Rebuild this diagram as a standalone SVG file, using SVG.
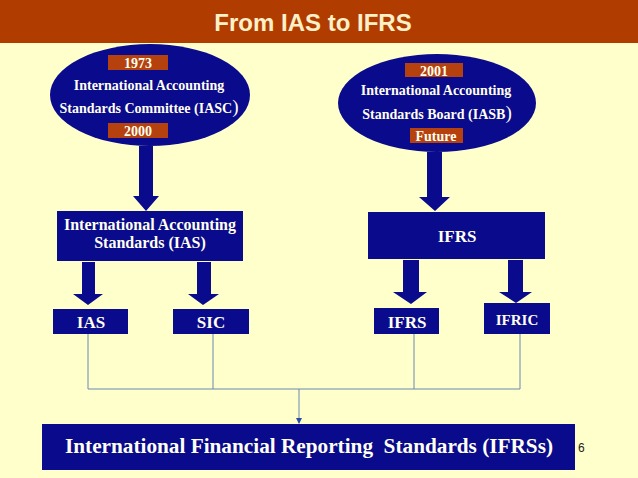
<svg xmlns="http://www.w3.org/2000/svg" width="638" height="478" viewBox="0 0 638 478">
<style>
.bg{fill:#FFFFCC}
.hdr{fill:#B03C00}
.navy{fill:#0A0A8C}
.lab{fill:#B5420E}
.t{font-family:"Liberation Serif","Times New Roman",serif;font-weight:bold;fill:#FFFFF0;text-anchor:middle}
.title{font-family:"Liberation Sans",Arial,sans-serif;font-weight:bold;font-size:24px;fill:#FFF0C8;text-anchor:middle}
.conn{stroke:#6A88B0;stroke-width:1;fill:none}
</style>
<defs>
<marker id="ah" markerWidth="6" markerHeight="6" refX="5" refY="3" orient="auto" markerUnits="userSpaceOnUse">
<path d="M0,0 L6,3 L0,6 Z" fill="#2A4AA8"/>
</marker>
</defs>
<rect class="bg" x="0" y="0" width="638" height="478"/>
<rect class="hdr" x="0" y="0" width="638" height="43"/>
<text class="title" x="313" y="31">From IAS to IFRS</text>

<g id="iasc">
<ellipse class="navy" cx="150" cy="95" rx="100" ry="51"/>
<rect class="lab" x="108" y="55" width="60" height="15"/>
<text class="t" x="138" y="68" font-size="14">1973</text>
<text class="t" x="149" y="90" font-size="14">International Accounting</text>
<text class="t" x="149" y="113" font-size="14">Standards Committee (IASC<tspan font-size="19" font-weight="normal">)</tspan></text>
<rect class="lab" x="108" y="123" width="60" height="15"/>
<text class="t" x="138" y="136" font-size="14">2000</text>
</g>

<g id="iasb">
<ellipse class="navy" cx="437" cy="103" rx="99" ry="49"/>
<rect class="lab" x="405" y="63" width="58" height="14"/>
<text class="t" x="434" y="75.5" font-size="14">2001</text>
<text class="t" x="436" y="95" font-size="14">International Accounting</text>
<text class="t" x="437" y="119" font-size="14">Standards Board (IASB<tspan font-size="19" font-weight="normal">)</tspan></text>
<rect class="lab" x="410" y="128" width="53" height="15"/>
<text class="t" x="436" y="141" font-size="14">Future</text>
</g>

<g id="ias-standards">
<rect class="navy" x="57" y="211" width="186" height="50"/>
<text class="t" x="150" y="230" font-size="16">International Accounting</text>
<text class="t" x="150" y="248" font-size="16">Standards (IAS)</text>
</g>

<g id="ifrs-main">
<rect class="navy" x="368" y="212" width="177" height="47"/>
<text class="t" x="457" y="242" font-size="17">IFRS</text>
</g>

<g id="ias">
<rect class="navy" x="53" y="309" width="75" height="25"/>
<text class="t" x="91" y="328" font-size="17">IAS</text>
</g>
<g id="sic">
<rect class="navy" x="173" y="309" width="76" height="25"/>
<text class="t" x="211" y="328" font-size="17">SIC</text>
</g>
<g id="ifrs">
<rect class="navy" x="374" y="308" width="65" height="26"/>
<text class="t" x="407" y="328" font-size="17">IFRS</text>
</g>
<g id="ifric">
<rect class="navy" x="484" y="303" width="66" height="31"/>
<text class="t" x="517" y="325" font-size="15">IFRIC</text>
</g>

<g id="ifrss">
<rect class="navy" x="42" y="424" width="533" height="46"/>
<text class="t" x="309" y="453" font-size="21" xml:space="preserve" textLength="488" lengthAdjust="spacingAndGlyphs">International Financial Reporting  Standards (IFRSs)</text>
</g>
<text x="578" y="452" font-family="'Liberation Sans',Arial,sans-serif" font-size="12" fill="#222">6</text>

<g id="connectors">
<polygon class="navy" points="139,146 153,146 153,196 159,196 146,211 133,196 139,196"/>
<polygon class="navy" points="427,152 442,152 442,197 450,197 435,211 419,197 427,197"/>
<polygon class="navy" points="82,262 95,262 95,294 103,294 88,305 73,294 82,294"/>
<polygon class="navy" points="197,262 211,262 211,294 219,294 203,305 188,294 197,294"/>
<polygon class="navy" points="403,260 419,260 419,292 427,292 411,304 393,292 403,292"/>
<polygon class="navy" points="508,260 523,260 523,292 532,292 516,303 499,292 508,292"/>
<path class="conn" d="M88,334 V389 M213,334 V389 M414,334 V389 M520,334 V389 M88,389 H520"/>
<path class="conn" d="M299,389 V423" stroke="#2A4AA8" marker-end="url(#ah)"/>
</g>
</svg>
